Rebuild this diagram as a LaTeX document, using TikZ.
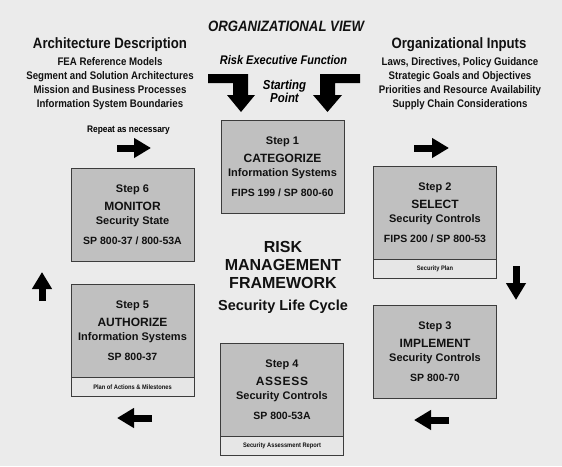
\documentclass[tikz,border=0pt]{standalone}
\usepackage{fontspec}
\setmainfont{Liberation Sans}
\newfontfamily\narrowfont{Liberation Sans}[FakeStretch=0.88]
\usetikzlibrary{arrows.meta,positioning}
\definecolor{rmfBack}{HTML}{EBEBEB}
\definecolor{rmfBox}{HTML}{C0C0C0}
\definecolor{rmfFoot}{HTML}{E6E6E6}
\definecolor{rmfLine}{HTML}{3C3C3C}
\definecolor{rmfInk}{HTML}{111111}

\begin{document}
\begin{tikzpicture}[
  x=1pt, y=-1pt,
  stepbox/.style={
    draw=rmfLine,
    fill=rmfBox,
    line width=0.9pt,
    minimum width=123pt,
    minimum height=93pt,
    inner sep=0pt,
    outer sep=0pt,
    align=center,
    text=rmfInk,
    font=\fontsize{11}{13}\selectfont\bfseries
  },
  footbox/.style={
    draw=rmfLine,
    fill=rmfFoot,
    line width=0.9pt,
    minimum width=123pt,
    minimum height=19pt,
    inner sep=0pt,
    outer sep=0pt,
    text=rmfInk,
    font=\narrowfont\fontsize{6.5}{7}\selectfont\bfseries
  },
  head/.style={font=\narrowfont\fontsize{15}{17}\selectfont\bfseries, text=rmfInk},
  list/.style={font=\narrowfont\fontsize{11}{14}\selectfont\bfseries, align=center, text=rmfInk},
  blockarrow/.style={line width=7pt, -{Triangle[width=19pt,length=17pt]}, draw=black},
  bentarrow/.style={fill=black}
]
  % background and margins
  \fill[rmfBack] (0,0) rectangle (562,466);

  % headings round the top
  \node[head, font=\narrowfont\fontsize{15}{17}\selectfont\bfseries\itshape] (view) at (286,26) {ORGANIZATIONAL VIEW};
  \node[head] (archhead) at (110,45) {Architecture Description};
  \node[list] (archlist) at (110,84) {FEA Reference Models\\Segment and Solution Architectures\\Mission and Business Processes\\Information System Boundaries};
  \node[head] (orghead) at (459,45) {Organizational Inputs};
  \node[list] (orglist) at (460,84) {Laws, Directives, Policy Guidance\\Strategic Goals and Objectives\\Priorities and Resource Availability\\Supply Chain Considerations};
  \node[font=\narrowfont\fontsize{12.5}{14}\selectfont\bfseries\itshape] (ref) at (283.5,60) {Risk Executive Function};
  \node[font=\narrowfont\fontsize{13}{12}\selectfont\bfseries\itshape, align=center] (start) at (284.5,91) {Starting\\Point};
  \node[font=\narrowfont\fontsize{9.5}{11}\selectfont\bfseries] (repeat) at (128.5,130) {Repeat as necessary};

  % the six steps
  \node[stepbox] (step1) at (282.5,167) {Step 1\\[5pt]{\fontsize{12}{13}\selectfont CATEGORIZE}\\[1pt]Information Systems\\[7pt]{\fontsize{10.5}{13}\selectfont FIPS 199 / SP 800-60}};
  \node[stepbox] (step2) at (435,213) {Step 2\\[5pt]{\fontsize{12}{13}\selectfont SELECT}\\[1pt]Security Controls\\[7pt]{\fontsize{10.5}{13}\selectfont FIPS 200 / SP 800-53}};
  \node[footbox, below=0pt of step2] (plan) {Security Plan};
  \node[stepbox] (step3) at (435,352) {Step 3\\[5pt]{\fontsize{12}{13}\selectfont IMPLEMENT}\\[1pt]Security Controls\\[7pt]{\fontsize{10.5}{13}\selectfont SP 800-70}};
  \node[stepbox] (step4) at (282,390) {Step 4\\[5pt]{\fontsize{12}{13}\selectfont\addfontfeature{LetterSpace=6} ASSESS}\\[1pt]Security Controls\\[7pt]{\fontsize{10.5}{13}\selectfont SP 800-53A}};
  \node[footbox, below=0pt of step4] (report) {Security Assessment Report};
  \node[stepbox] (step5) at (132.5,331) {Step 5\\[5pt]{\fontsize{12}{13}\selectfont AUTHORIZE}\\[1pt]Information Systems\\[7pt]{\fontsize{10.5}{13}\selectfont SP 800-37}};
  \node[footbox, below=0pt of step5] (poam) {Plan of Actions \& Milestones};
  \node[stepbox] (step6) at (132.5,214.5) {Step 6\\[5pt]{\fontsize{12}{13}\selectfont MONITOR}\\[1pt]Security State\\[7pt]{\fontsize{10.5}{13}\selectfont SP 800-37 / 800-53A}};

  % centre title
  \node[font=\fontsize{16}{18}\selectfont\bfseries, align=center, text=rmfInk] (rmf) at (283,265) {RISK\\MANAGEMENT\\FRAMEWORK};
  \node[font=\fontsize{14.5}{16}\selectfont\bfseries, text=rmfInk, below=4pt of rmf] (cycle) {Security Life Cycle};

  % bent arrows into step 1
  \fill[bentarrow] (208,74) -- (248,74) -- (248,95) -- (255,95) -- (241,112) -- (227,95) -- (233,95) -- (233,83) -- (208,83) -- cycle;
  \fill[bentarrow] (360,74) -- (320,74) -- (320,95) -- (313,95) -- (327.5,112) -- (342,95) -- (335,95) -- (335,83) -- (360,83) -- cycle;

  % cycle arrows
  \coordinate (a1) at (117,148);
  \coordinate (b1) at (151,148);
  \coordinate (a2) at (414,148);
  \coordinate (b2) at (449,148);
  \coordinate (a3) at (516,266);
  \coordinate (b3) at (516,300);
  \coordinate (a4) at (449,420);
  \coordinate (b4) at (414,420);
  \coordinate (a5) at (152,418);
  \coordinate (b5) at (117,418);
  \coordinate (a6) at (42,301);
  \coordinate (b6) at (42,272);
  \draw[blockarrow] (a1) -- (b1);
  \draw[blockarrow] (a2) -- (b2);
  \draw[blockarrow] (a3) -- (b3);
  \draw[blockarrow] (a4) -- (b4);
  \draw[blockarrow] (a5) -- (b5);
  \draw[blockarrow] (a6) -- (b6);
\end{tikzpicture}
\end{document}
